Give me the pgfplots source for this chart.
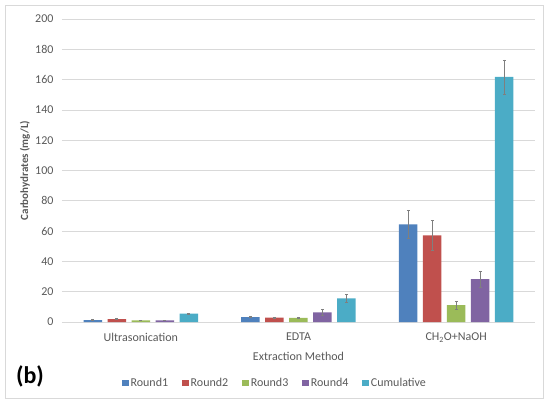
\documentclass[border=0pt]{standalone}
\usepackage{pgfplots}
\pgfplotsset{compat=1.18}
\usepackage{pgfplotstable}
\usepackage{fontspec}
\setmainfont{Carlito}

\definecolor{c1}{HTML}{4F81BD}
\definecolor{c2}{HTML}{C0504D}
\definecolor{c3}{HTML}{9BBB59}
\definecolor{c4}{HTML}{8064A2}
\definecolor{c5}{HTML}{4BACC6}
\definecolor{gridgray}{HTML}{D9D9D9}
\definecolor{txtgray}{HTML}{595959}
\definecolor{errgray}{HTML}{7F7F7F}

% carbohydrates per round, with standard deviation
\pgfplotstableread{
x  r1    e1   r2    e2    r3    e3   r4    e4   cu     ecu
0  1.3   0.2  1.9   0.3   1.1   0.2  1.1   0.2  5.5    0.4
1  3.2   0.4  2.9   0.4   2.8   0.6  6.4   1.8  15.6   2.8
2  64.5  9.3  57.2  10.0  11.2  2.5  28.3  5.4  161.8  11.2
}\datatable

\begin{document}
\begin{tikzpicture}
\useasboundingbox (-62pt,-80pt) rectangle (488pt,322pt);
\draw[gridgray] (-57pt,-76pt) rectangle (481pt,317pt);
\begin{axis}[
    scale only axis,
    width=473pt, height=303pt,
    ybar=5.5pt, bar width=18.5pt,
    xmin=-0.5, xmax=2.5, enlarge x limits=false,
    ymin=0, ymax=200, ytick distance=20,
    xtick={0,1,2},
    xticklabels={Ultrasonication, EDTA, CH\textsubscript{2}O+NaOH},
    ymajorgrids, grid style={gridgray, line width=0.6pt},
    axis line style={draw=none},
    tick style={draw=none},
    /pgf/number format/assume math mode=true,
    ticklabel style={font=\fontsize{12}{14}\selectfont, text=txtgray},
    yticklabel style={xshift=-5pt},
    xticklabel style={yshift=-3pt},
    xlabel={Extraction Method},
    xlabel style={font=\fontsize{12}{14}\selectfont, text=txtgray,
        at={(axis description cs:0.5,-0.1122)}, anchor=center},
    ylabel={Carbohydrates (mg/L)},
    ylabel style={font=\bfseries\fontsize{11}{13}\selectfont, text=txtgray,
        at={(axis description cs:-0.0782,0.5)}, anchor=center},
    legend columns=5,
    legend style={draw=none, fill=none, at={(0.4503,-0.2013)}, anchor=center,
        font=\fontsize{12}{14}\selectfont, text=txtgray,
        /tikz/every even column/.append style={column sep=12pt}},
    legend image code/.code={\fill[#1] (0pt,-3.2pt) rectangle (6.5pt,3.3pt);},
    error bars/y dir=both, error bars/y explicit,
    error bars/error bar style={errgray, line width=0.6pt},
    error bars/error mark options={rotate=90, errgray, mark size=1.4pt, line width=0.6pt},
]
\addplot[fill=c1, draw=none] table[x=x, y=r1, y error=e1] {\datatable};
\addplot[fill=c2, draw=none] table[x=x, y=r2, y error=e2] {\datatable};
\addplot[fill=c3, draw=none] table[x=x, y=r3, y error=e3] {\datatable};
\addplot[fill=c4, draw=none] table[x=x, y=r4, y error=e4] {\datatable};
\addplot[fill=c5, draw=none] table[x=x, y=cu, y error=ecu] {\datatable};
\legend{Round1, Round2, Round3, Round4, Cumulative}
\end{axis}
\node[font=\bfseries\fontsize{24}{28}\selectfont] at (-32pt,-54pt) {(b)};
\end{tikzpicture}
\end{document}
